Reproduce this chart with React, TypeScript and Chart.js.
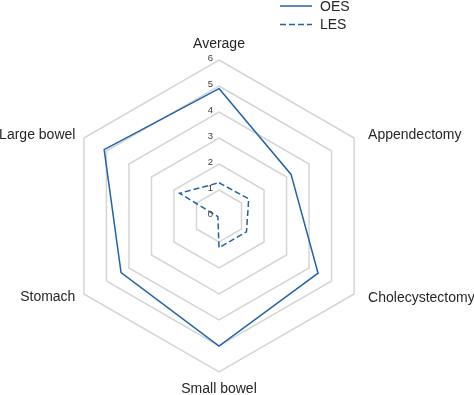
import React, { useEffect, useRef } from "react";
import { Chart, registerables } from "chart.js";

Chart.register(...registerables);

const categories = ["Average", "Appendectomy", "Cholecystectomy", "Small bowel", "Stomach", "Large bowel"];
const seriesNames = ["OES", "LES"];
const oesValues = [4.9, 3.2, 4.4, 5.0, 4.35, 5.1];
const lesValues = [1.28, 1.32, 1.22, 1.22, 0.05, 1.75];
const tickValues = [0, 1, 2, 3, 4, 5, 6];

const FONT = '"Liberation Sans", Arial, Helvetica, sans-serif';
const BLUE = "#1f63a8";
const TEXT = "#262626";

const pointLabelPlugin = {
  id: "customPointLabels",
  afterDraw(chart: any) {
    const scale = chart.scales.r;
    const ctx = chart.ctx;
    ctx.save();
    // tick labels
    ctx.font = `9.5px ${FONT}`;
    ctx.fillStyle = "#3a3a3a";
    ctx.textAlign = "center";
    ctx.textBaseline = "middle";
    tickValues.forEach((v) => {
      const p = scale.getPointPositionForValue(0, v);
      ctx.fillText(String(v), p.x - 8.5, p.y - 2);
    });
    // point labels
    ctx.font = `14px ${FONT}`;
    ctx.fillStyle = TEXT;
    ctx.textBaseline = "alphabetic";
    const labels = chart.data.labels as string[];
    labels.forEach((lab, i) => {
      const p = scale.getPointPosition(i, scale.drawingArea);
      const dx = p.x - scale.xCenter;
      const dy = p.y - scale.yCenter;
      if (Math.abs(dx) < 1) {
        ctx.textAlign = "center";
        ctx.fillText(lab, p.x, dy < 0 ? p.y - 12.5 : p.y + 21);
      } else if (dx > 0) {
        ctx.textAlign = "left";
        ctx.fillText(lab, p.x + 14, dy < 0 ? p.y + 1 : p.y + 8);
      } else {
        ctx.textAlign = "right";
        ctx.fillText(lab, p.x - 8.5, dy < 0 ? p.y + 1 : p.y + 7);
      }
    });
    // legend
    const ds = chart.data.datasets;
    ds.forEach((d: any, i: number) => {
      const y = 6 + i * 18.5;
      ctx.beginPath();
      ctx.strokeStyle = d.borderColor;
      ctx.lineWidth = 1.5;
      ctx.setLineDash(d.borderDash || []);
      ctx.moveTo(280, y);
      ctx.lineTo(312, y);
      ctx.stroke();
      ctx.setLineDash([]);
      ctx.textAlign = "left";
      ctx.textBaseline = "middle";
      ctx.fillStyle = TEXT;
      ctx.fillText(d.label, 320, y + 1);
    });
    ctx.restore();
  },
};

export default function App() {
  const ref = useRef<HTMLCanvasElement | null>(null);
  useEffect(() => {
    if (!ref.current) return;
    const chart = new Chart(ref.current, {
      type: "radar",
      data: {
        labels: categories,
        datasets: [
          {
            label: seriesNames[0],
            data: oesValues,
            borderColor: BLUE,
            backgroundColor: "transparent",
            borderWidth: 1.5,
            pointRadius: 0,
            fill: false,
          },
          {
            label: seriesNames[1],
            data: lesValues,
            borderColor: BLUE,
            backgroundColor: "transparent",
            borderWidth: 1.5,
            borderDash: [6, 3],
            pointRadius: 0,
            fill: false,
          },
        ],
      },
      options: {
        animation: false,
        responsive: false,
        devicePixelRatio: 1,
        layout: { padding: { left: 63, right: 99, top: 60.5, bottom: 22.5 } },
        plugins: { legend: { display: false }, tooltip: { enabled: false } },
        scales: {
          r: {
            min: 0,
            max: 6,
            ticks: { display: false, stepSize: 1 },
            grid: { color: "#d5d5d5", lineWidth: 1.5, circular: false },
            angleLines: { display: false },
            pointLabels: { display: false },
          },
        },
      },
      plugins: [pointLabelPlugin],
    });
    return () => chart.destroy();
  }, []);
  return (
    <div style={{ position: "fixed", left: 0, top: 0, width: 474, height: 395, background: "#fff" }}>
      <canvas ref={ref} width={474} height={395} style={{ display: "block" }} />
    </div>
  );
}
